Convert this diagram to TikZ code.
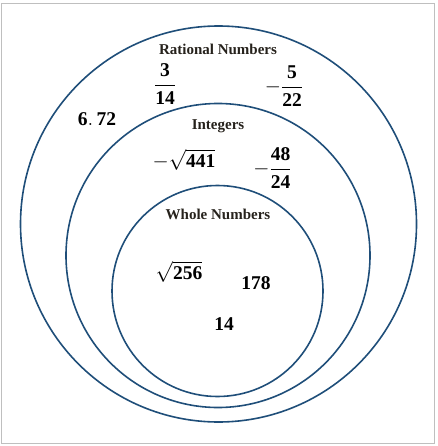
\documentclass[tikz,border=0pt]{standalone}
\usepackage{amsmath}
\usepackage{fontspec}
\setmainfont{Liberation Serif}
\usetikzlibrary{positioning}
\definecolor{ringblue}{RGB}{31,78,121}
\definecolor{labelgray}{RGB}{38,34,28}

\begin{document}
\begin{tikzpicture}[x=1pt, y=-1pt,
  ring/.style = {draw=ringblue, line width=1.6pt, circle, inner sep=0, },
  setname/.style = {text=labelgray, font=\fontsize{15}{17}\selectfont\bfseries, inner sep=0},
  num/.style = {font=\fontsize{19.5}{22}\selectfont, inner sep=0},
  ]
  \useasboundingbox (0, 0) rectangle (437, 446);
  \node[draw=gray!50, line width=0.8pt, minimum width=432.5, minimum height=440, inner sep=0] (frame) at (217.8, 223) {};

  % the three sets
  \node[ring, minimum size=396] (rational) at (218.5, 224) {};
  \node[ring, minimum size=304] (integers) at (218, 255.5) {};
  \node[ring, minimum size=211] (whole) at (217.5, 291) {};

  \node[setname] (ratname) at (218, 49) {Rational Numbers};
  \node[setname] (intname) at (218, 126) {Integers};
  \node[setname] (wholename) at (218, 214) {Whole Numbers};

  % rational numbers
  \node[num] (r1) at (165, 84) {$\dfrac{\mathbf{3}}{\mathbf{14}}$};
  \node[num] (r2) at (284, 86) {$-\dfrac{\mathbf{5}}{\mathbf{22}}$};
  \node[num] (r3) at (97, 119) {$\mathbf{6.}\,\mathbf{72}$};

  % integers
  \node[num] (i1) at (184, 160) {$-\sqrt{\mathbf{441}}$};
  \node[num] (i2) at (272.5, 168) {$-\dfrac{\mathbf{48}}{\mathbf{24}}$};

  % whole numbers
  \node[num] (w1) at (179, 272) {$\sqrt{\mathbf{256}}$};
  \node[num] (w2) at (256, 283) {$\mathbf{178}$};
  \node[num] (w3) at (224, 324) {$\mathbf{14}$};
\end{tikzpicture}
\end{document}
